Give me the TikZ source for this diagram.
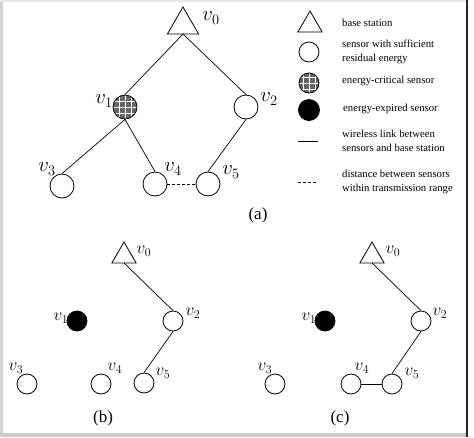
\documentclass[tikz,border=0pt]{standalone}
\usepackage{fontspec}
\setmainfont{Liberation Serif}
\usetikzlibrary{shapes.geometric}
\begin{document}
\begin{tikzpicture}[x=1pt,y=-1pt,
  sensor/.style={circle,draw=black,line width=0.8pt,fill=white,inner sep=0pt,minimum size=#1},
  sensor/.default=24pt,
  crit/.style={sensor=#1,fill=gray!80!black,path picture={
     \foreach \d in {-6,0,6}{
       \draw[white,line width=0.5pt] ([xshift=\d pt]path picture bounding box.north) -- ([xshift=\d pt]path picture bounding box.south);
       \draw[white,line width=0.5pt] ([yshift=\d pt]path picture bounding box.west) -- ([yshift=\d pt]path picture bounding box.east);}}},
  crit/.default=24pt,
  dead/.style={sensor=#1,fill=black},
  dead/.default=20pt,
  bstation/.style={regular polygon,regular polygon sides=3,draw=black,line width=0.8pt,fill=white,inner sep=0pt,outer sep=0pt,minimum size=#1},
  bstation/.default=36pt,
  wlink/.style={line width=0.7pt},
  rangeline/.style={line width=0.7pt,dash pattern=on 3pt off 2pt},
  lbl/.style={inner sep=0pt,font=\fontsize{21}{21}\selectfont},
  slbl/.style={inner sep=0pt,font=\fontsize{17}{17}\selectfont},
  captext/.style={inner sep=0pt,font=\fontsize{17}{17}\selectfont},
  legtext/.style={anchor=west,inner sep=0pt,align=left,font=\fontsize{10.7}{13.5}\selectfont}
]
\useasboundingbox (0,0) rectangle (474,437);
% frame
\fill[gray!35] (0,0) rectangle (3,437);
\fill[gray!18] (0,0) rectangle (468,2);
\fill[gray!40] (0,433) rectangle (468,437);
\draw[black!85,line width=2.4pt] (467,0) -- (467,437);

% ---------- (a) ----------
\node[bstation] (a0) at (183,25) {};
\node[crit] (a1) at (125,107) {};
\node[sensor] (a2) at (246,107) {};
\node[sensor] (a3) at (62,186) {};
\node[sensor] (a4) at (155,184) {};
\node[sensor] (a5) at (208,184) {};
\draw[wlink] (a0.south) -- (a1.north);
\draw[wlink] (a0.south) -- (a2.north);
\draw[wlink] (a1.south) -- (a3.north);
\draw[wlink] (a1.south) -- (a4.north);
\draw[wlink] (a2.south) -- (a5.north);
\draw[rangeline] (a4.east) -- (a5.west);
\node[lbl] (la0) at (211,18) {$v_0$};
\node[lbl] (la1) at (104,101) {$v_1$};
\node[lbl] (la2) at (269,99) {$v_2$};
\node[lbl] (la3) at (47,169) {$v_3$};
\node[lbl] (la4) at (173,169) {$v_4$};
\node[lbl] (la5) at (231,172) {$v_5$};
\node[captext] (capa) at (258,215) {(a)};

% ---------- legend ----------
\node[bstation=28pt] (g0) at (310,25) {};
\node[sensor=20pt] (g1) at (309,52) {};
\node[crit=20pt] (g2) at (309,83) {};
\node[dead=21pt] (g3) at (309,110) {};
\coordinate (g4a) at (298,141);
\coordinate (g4b) at (318,141);
\coordinate (g5a) at (298,182);
\coordinate (g5b) at (318,182);
\draw[wlink] (g4a) -- (g4b);
\draw[rangeline] (g5a) -- (g5b);
\node[legtext] (t0) at (342,23) {base station};
\node[legtext] (t1) at (342,52) {sensor with sufficient\\residual energy};
\node[legtext] (t2) at (342,81) {energy-critical sensor};
\node[legtext] (t3) at (343,109) {energy-expired sensor};
\node[legtext] (t4) at (342,141) {wireless link between\\sensors and base station};
\node[legtext] (t5) at (342,182) {distance between sensors\\within transmission range};

% ---------- (b) ----------
\node[bstation=28pt] (b0) at (124,256) {};
\node[dead] (b1) at (77,321) {};
\node[sensor=20pt] (b2) at (173,321) {};
\node[sensor=20pt] (b3) at (27,384) {};
\node[sensor=20pt] (b4) at (101,384) {};
\node[sensor=20pt] (b5) at (144,383) {};
\draw[wlink] (b0.south) -- (b2.north);
\draw[wlink] (b2.south) -- (b5.north);
\node[slbl] (lb0) at (144,251) {$v_0$};
\node[slbl] (lb1) at (61,318) {$v_1$};
\node[slbl] (lb2) at (193,313) {$v_2$};
\node[slbl] (lb3) at (16,368) {$v_3$};
\node[slbl] (lb4) at (115,368) {$v_4$};
\node[slbl] (lb5) at (163,373) {$v_5$};
\node[captext] (capb) at (103,418) {(b)};

% ---------- (c) ----------
\node[bstation=28pt] (c0) at (372,256) {};
\node[dead] (c1) at (325,321) {};
\node[sensor=20pt] (c2) at (421,321) {};
\node[sensor=20pt] (c3) at (275,384) {};
\node[sensor=20pt] (c4) at (351,384) {};
\node[sensor=20pt] (c5) at (392,384) {};
\draw[wlink] (c0.south) -- (c2.north);
\draw[wlink] (c2.south) -- (c5.north);
\draw[wlink] (c4.east) -- (c5.west);
\node[slbl] (lc0) at (393,251) {$v_0$};
\node[slbl] (lc1) at (309,318) {$v_1$};
\node[slbl] (lc2) at (440,313) {$v_2$};
\node[slbl] (lc3) at (265,368) {$v_3$};
\node[slbl] (lc4) at (362,368) {$v_4$};
\node[slbl] (lc5) at (412,373) {$v_5$};
\node[captext] (capc) at (340,418) {(c)};
\end{tikzpicture}
\end{document}
